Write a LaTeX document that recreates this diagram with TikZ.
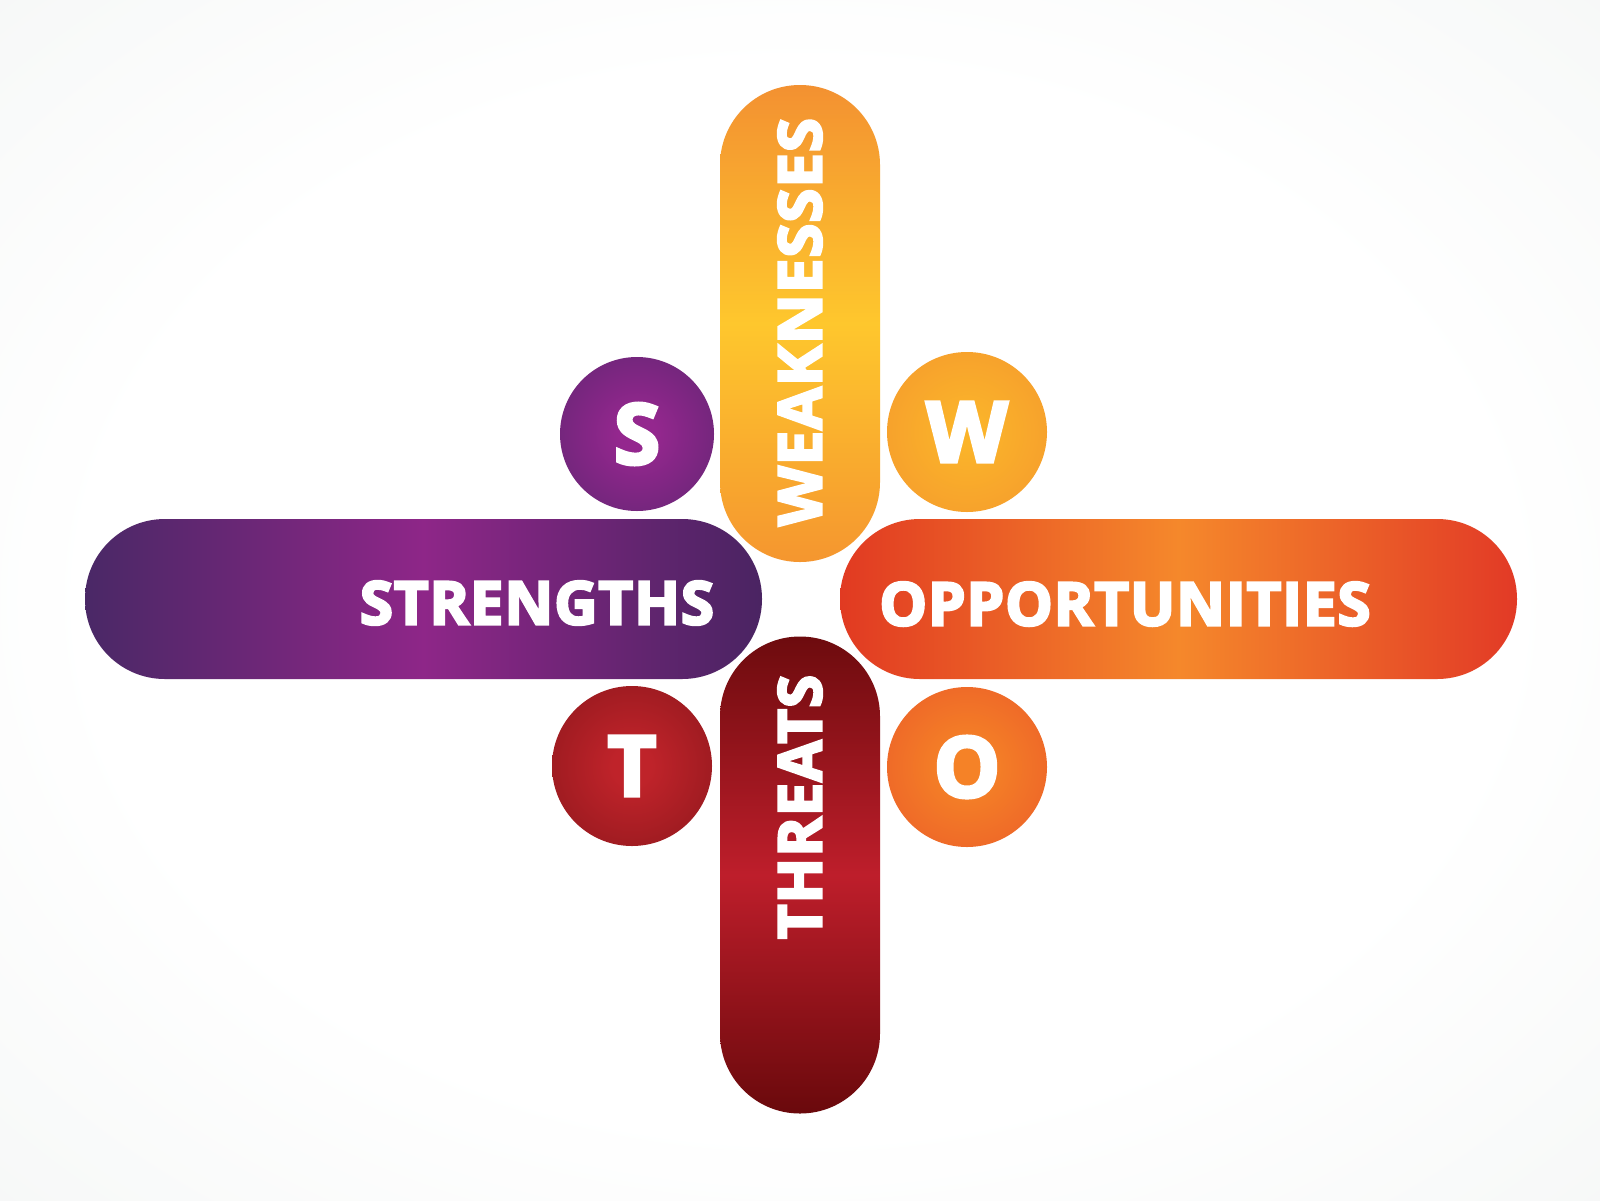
\documentclass[tikz,border=0pt]{standalone}
\usepackage{fontspec}
\setmainfont{Open Sans}
\newfontfamily\heavy{Open Sans}[BoldFeatures={FakeBold=4}, LetterSpace=1.5]
\definecolor{bggray}{HTML}{EEF1F0}
\definecolor{sIn}{HTML}{94278E}
\definecolor{sOut}{HTML}{4C2467}
\definecolor{wIn}{HTML}{FBB42A}
\definecolor{wOut}{HTML}{F28D2F}
\definecolor{tIn}{HTML}{BF232A}
\definecolor{tOut}{HTML}{781216}
\definecolor{oIn}{HTML}{F58227}
\definecolor{oOut}{HTML}{E74C29}
\definecolor{wTop}{HTML}{F39131}
\definecolor{wMid}{HTML}{FEC72D}
\definecolor{wBot}{HTML}{F5962F}
\definecolor{sLeft}{HTML}{4A2866}
\definecolor{sMid}{HTML}{8E2688}
\definecolor{sRight}{HTML}{4A2462}
\definecolor{oLeft}{HTML}{E13A22}
\definecolor{oMid}{HTML}{F5882B}
\definecolor{oRight}{HTML}{E23A26}
\definecolor{tTop}{HTML}{6D0B0E}
\definecolor{tMid}{HTML}{BE1E2B}
\definecolor{tBot}{HTML}{6A090C}
\pgfdeclareradialshading{bgshade}{\pgfpointorigin}{color(0bp)=(white); color(22bp)=(white); color(50bp)=(bggray)}
\pgfdeclareradialshading{sshade}{\pgfpointorigin}{color(0bp)=(sIn); color(6bp)=(sIn); color(50bp)=(sOut)}
\pgfdeclareradialshading{wshade}{\pgfpointorigin}{color(0bp)=(wIn); color(4bp)=(wIn); color(50bp)=(wOut)}
\pgfdeclareradialshading{tshade}{\pgfpointorigin}{color(0bp)=(tIn); color(6bp)=(tIn); color(50bp)=(tOut)}
\pgfdeclareradialshading{oshade}{\pgfpointorigin}{color(0bp)=(oIn); color(6bp)=(oIn); color(50bp)=(oOut)}
\begin{document}
\begin{tikzpicture}[x=1pt,y=-1pt,
  pill/.style={rectangle, draw=none, inner sep=0pt, rounded corners=79.9pt},
  hpill/.style={pill, minimum width=677pt, minimum height=160pt},
  vpill/.style={pill, minimum width=160pt, minimum height=477pt},
  lbl/.style={text=white, inner sep=0pt, font=\heavy\bfseries\fontsize{60}{60}\selectfont},
  ball/.style={circle, draw=none, inner sep=0pt, minimum size=160pt, text=white, font=\heavy\bfseries\fontsize{84}{84}\selectfont}]
\useasboundingbox (0,0) rectangle (1600,1200);
\path[shading=bgshade] (0,0) rectangle (1600,1200);
% pills
\node[vpill, top color=wTop, bottom color=wBot, middle color=wMid] (wpill) at (800,323.5) {};
\node[vpill, top color=tTop, bottom color=tBot, middle color=tMid] (tpill) at (800,875) {};
\node[hpill, left color=sLeft, right color=sRight, middle color=sMid] (spill) at (423.5,599) {};
\node[hpill, left color=oLeft, right color=oRight, middle color=oMid] (opill) at (1178.5,599) {};
% labels
\node[lbl, rotate=90] (wtext) at (800,322) {\scalebox{1.03}[1]{WEAKNESSES}};
\node[lbl, rotate=90] (ttext) at (800,807) {THREATS};
\node[lbl] (stext) at (537,603) {STRENGTHS};
\node[lbl] (otext) at (1125,604) {OPPORTUNITIES};
% circles
\node[ball, shading=sshade, minimum size=154pt] (sball) at (637,434) {S};
\node[ball, shading=wshade] (wball) at (967,432) {W};
\node[ball, shading=tshade] (tball) at (632,766) {T};
\node[ball, shading=oshade] (oball) at (967,767) {O};
\end{tikzpicture}
\end{document}
